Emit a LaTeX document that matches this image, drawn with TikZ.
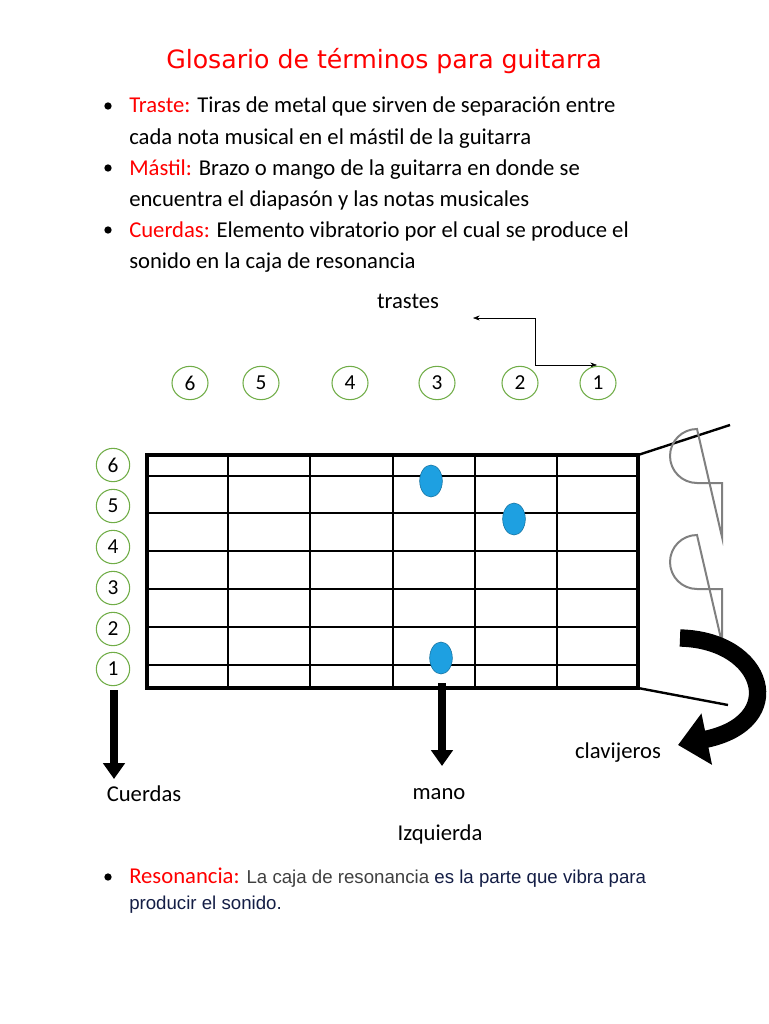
\documentclass[tikz,border=0pt]{standalone}
\usepackage{fontspec}
\setmainfont{Carlito}
\newfontfamily\djv{DejaVu Sans}
\newfontfamily\lib{Liberation Sans}
\usetikzlibrary{arrows.meta,shapes.geometric}
\definecolor{ttl}{RGB}{255,0,0}
\definecolor{grn}{RGB}{112,173,71}
\definecolor{dotb}{RGB}{30,160,225}
\definecolor{navy}{RGB}{20,30,70}
\begin{document}
\begin{tikzpicture}[x=0.75pt,y=-0.75pt,
  body/.style={anchor=base west,inner sep=0,font=\fontsize{17}{20}\selectfont},
  bul/.style={circle,fill=black,inner sep=0,minimum size=5.5pt},
  num/.style={ellipse,draw=grn,thick,minimum width=27pt,minimum height=25pt,inner sep=0,font=\fontsize{16}{18}\selectfont},
  lnum/.style={circle,draw=grn,thick,minimum size=25pt,inner sep=0,font=\fontsize{16}{18}\selectfont},
  lbl/.style={inner sep=0,font=\fontsize{17}{20}\selectfont},
  strg/.style={line width=1.5pt},
  fret/.style={line width=2.2pt},
  dot/.style={ellipse,fill=dotb,draw=dotb!70!black,minimum width=17pt,minimum height=24pt,inner sep=0},
  big/.style={line width=6pt,-{Triangle[length=12pt,width=16pt]}},
  tuner/.style={draw=gray,line width=1.5pt}]
\useasboundingbox[fill=white] (0,0) rectangle (768,1024);
\node[inner sep=0,text=ttl,font=\djv\fontsize{18.9}{22}\selectfont] (title) at (384,61) {Glosario de términos para guitarra};
% bullets
\foreach \y/\n in {106/b1,168/b2,230/b3}{\node[bul] (\n) at (108,\y) {};}
\node[body] (t1) at (129,113) {\textcolor{ttl}{Traste:} Tiras de metal que sirven de separación entre};
\node[body] (t1b) at (129,144) {cada nota musical en el mástil de la guitarra};
\node[body] (t2) at (129,175) {\textcolor{ttl}{Mástil:} Brazo o mango de la guitarra en donde se};
\node[body] (t2b) at (129,206) {encuentra el diapasón y las notas musicales};
\node[body] (t3) at (129,237) {\textcolor{ttl}{Cuerdas:} Elemento vibratorio por el cual se produce el};
\node[body] (t3b) at (129,268) {sonido en la caja de resonancia};
% trastes
\node[lbl] (tr) at (408,301) {trastes};
\coordinate (ea) at (473,318); \coordinate (eb) at (597,365);
\draw[{Stealth[length=5pt]}-{Stealth[length=5pt]},thin] (ea) -- (535,318) -- (535,365) -- (eb);
\foreach \x/\n in {190/6,261/5,350/4,437/3,520/2,598/1}{\node[num] (f\n) at (\x,383) {\n};}
\foreach \y/\n in {465/6,506/5,547/4,588/3,629/2,669/1}{\node[lnum] (s\n) at (113,\y) {\n};}
% fretboard
\foreach \y in {476,513,551,589,627,665}{\draw[strg] (147,\y) -- (638,\y);}
\foreach \x in {228,310,393,475,557}{\draw[fret] (\x,455) -- (\x,688);}
\draw[line width=3pt] (147,455) rectangle (638,688);
\draw[line width=1.8pt] (638,455) -- (730,425);
\draw[line width=1.8pt] (638,688) -- (728,705);
\draw[tuner] (722,483) -- (697,483) arc[start angle=270,end angle=90,radius=20.25pt] -- (722,537) -- cycle;
\draw[tuner] (722,589) -- (697,589) arc[start angle=270,end angle=90,radius=20.25pt] -- (722,643) -- cycle;
\node[dot] (d1) at (431,481) {};
\node[dot] (d2) at (514,519) {};
\node[dot] (d3) at (441,658) {};
% arrows
\node[lbl] (cu) at (144,794) {Cuerdas};
\node[lbl] (ma) at (439,794) {mano};
\node[lbl] (iz) at (440,834) {Izquierda};
\node[lbl] (cl) at (618,753) {clavijeros};
\coordinate (a1) at (114,690); \coordinate (a1e) at (114,779);
\coordinate (a2) at (442,683); \coordinate (a2e) at (442,766);
\draw[big] (a1) -- (a1e);
\draw[big] (a2) -- (a2e);
\coordinate (c1) at (680,638); \coordinate (c2) at (678,745);
\fill[white] (666,625) rectangle (700,652);
\draw[line width=13pt,-{Triangle[length=22pt,width=38pt]}] (c1) .. controls (765,640) and (790,722) .. (c2);
% resonancia
\node[bul] (b4) at (108,877) {};
\node[anchor=base west,inner sep=0,text=navy,font=\lib\fontsize{14}{17}\selectfont] (r1) at (129,883) {\textcolor{ttl}{\fontspec{Carlito}\fontsize{17}{20}\selectfont Resonancia:} \textcolor{black!75}{La caja de resonancia} es la parte que vibra para};
\node[anchor=base west,inner sep=0,text=navy,font=\lib\fontsize{14}{17}\selectfont] (r2) at (129,909) {producir el sonido.};
\end{tikzpicture}
\end{document}
